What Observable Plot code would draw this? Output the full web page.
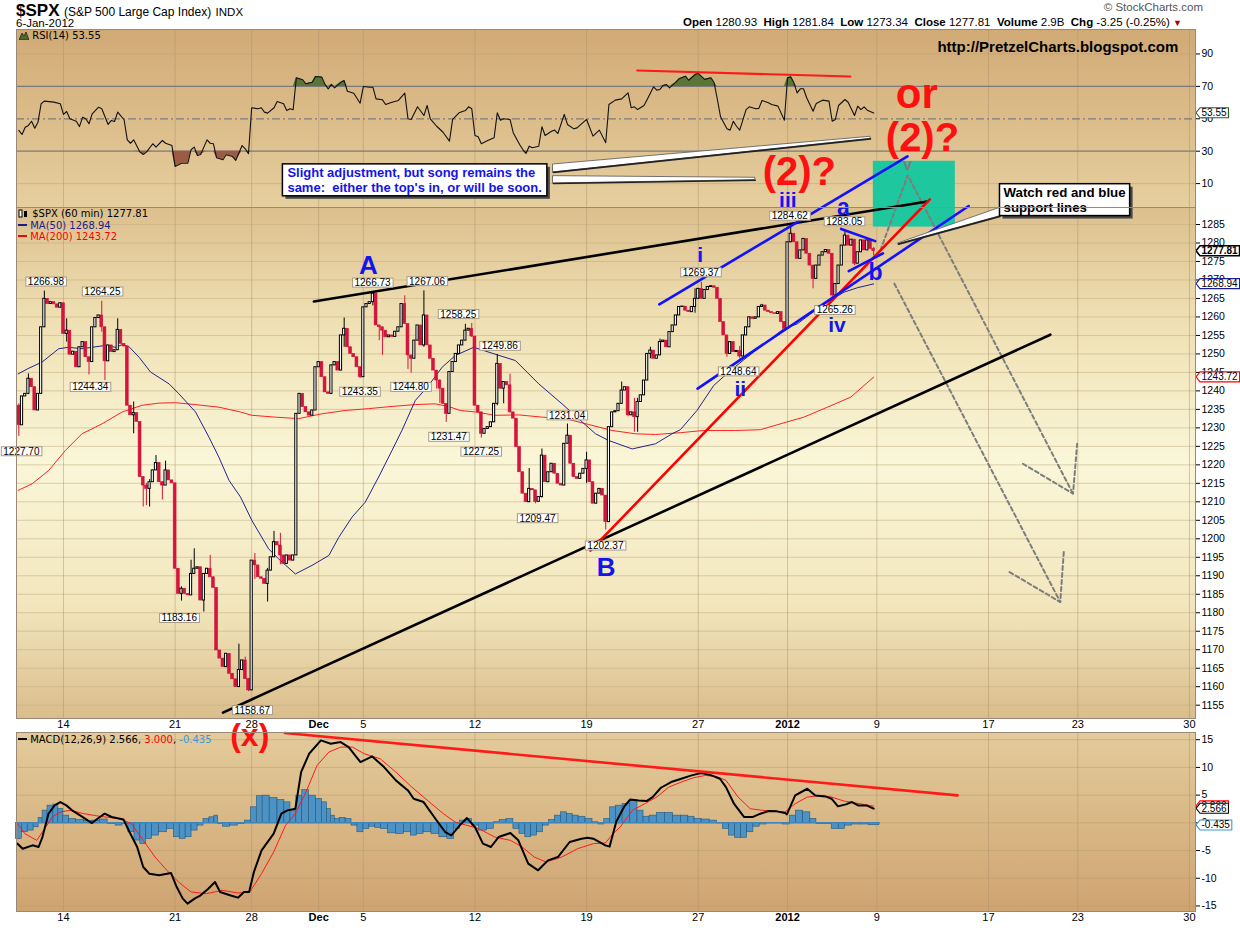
<!DOCTYPE html>
<html><head><meta charset="utf-8">
<script src="https://cdn.jsdelivr.net/npm/d3@7"></script>
<script src="https://cdn.jsdelivr.net/npm/@observablehq/plot@0.6"></script>
<style>
html,body{margin:0;padding:0;background:#fff;}
#root{position:relative;width:1240px;height:928px;overflow:hidden;font-family:"Liberation Sans",Arial,sans-serif;color:#000;}
.bg{position:absolute;left:16px;width:1179px;}
.lay{position:absolute;left:0;}
.leg{position:absolute;font-family:"DejaVu Sans",Verdana,sans-serif;font-size:10px;white-space:nowrap;line-height:12px;}
.hdr{position:absolute;white-space:nowrap;}
</style></head><body><div id="root">
<div class="bg" style="top:29px;height:178px;background:linear-gradient(#d1aa75,#e6cf9f)"></div>
<div class="bg" style="top:207px;height:511px;background:linear-gradient(#dcbf8d 0%,#efe0b3 22%,#faf6d8 50%,#f2e6bd 78%,#dabd8b 100%)"></div>
<div class="bg" style="top:732px;height:179px;background:linear-gradient(#e4cb9b,#cea471)"></div>
</div>
<script>
// ---------------- DATA ----------------
// x positions are hourly bar indexes (0 = first bar of Nov 14, 2011)
const tickBars = [0,35,59,80,94,129,164,199,227,255,290,318,353];
const tickLabels = ["14","21","28","Dec","5","12","19","27","2012","9","17","23","30"];
const priceTicks = [1155,1160,1165,1170,1175,1180,1185,1190,1195,1200,1205,1210,1215,1220,1225,1230,1235,1240,1245,1250,1255,1260,1265,1270,1275,1280,1285];
const rsiTicks = [10,30,50,70,90];
const rsiGuides = [30,70];
const rsiFaint = [90,10];
const macdTicks = [-15,-10,-5,0,5,10,15];

const firstBar = -14, firstOpen = 1236.0;
const closes = [1230.7,1238.5,1239.2,1243.3,1241.0,1234.7,1239.2,1257.2,1264.9,1263.5,1264.0,1263.4,1262.5,1263.7,
1255.4,1256.3,1249.8,1250.6,1246.4,1251.8,1253.2,1249.1,1247.8,1257.2,1259.7,1260.4,1257.2,1248.0,1252.3,1250.5,1251.0,1256.5,1252.7,1252.0,
1236.0,1233.4,1234.0,1231.6,1216.7,1214.4,1213.5,1215.3,1218.5,1220.5,1215.3,1214.4,1218.5,1215.8,1215.0,
1191.9,1185.1,1186.5,1185.1,1184.7,1190.5,1191.9,1192.3,1183.3,1190.5,1191.9,1189.6,1186.7,1169.8,1167.6,1165.3,1168.9,1163.5,1162.0,1159.9,1164.5,1167.1,1162.1,1159.0,
1194.1,1192.8,1189.6,1189.2,1187.8,1191.4,1195.0,1199.1,1198.2,1195.5,1193.2,1195.5,1194.1,1195.5,
1233.8,1239.2,1235.6,1234.2,1233.3,1234.7,1246.4,1247.8,1243.7,1239.6,1239.2,1246.9,1247.8,1245.5,1255.0,1256.8,1251.8,1250.0,1249.1,1246.4,1243.7,
1262.6,1263.5,1264.0,1266.3,1257.7,1257.2,1256.3,1254.5,1255.0,1254.6,1256.0,1257.2,1263.5,1258.1,1249.6,1248.7,1253.6,1257.7,1252.3,1260.4,1252.3,
1248.7,1245.5,1242.8,1240.6,1236.5,1233.8,1245.1,1247.8,1250.0,1252.3,1253.6,1256.3,1256.8,1254.7,
1236.0,1234.2,1228.4,1229.7,1230.2,1231.5,1236.5,1247.3,1240.6,1242.4,1241.5,1234.2,1232.5,1224.8,1218.0,1212.2,1209.9,1213.5,1213.1,1210.0,1211.3,
1222.5,1215.3,1218.0,1220.3,1217.6,1214.9,1214.4,1225.7,1227.9,1220.3,1216.7,1216.2,1217.6,1218.9,
1221.2,1215.3,1209.5,1212.2,1213.5,1211.7,1204.5,1230.2,1234.2,1234.5,1236.5,1240.1,1241.0,1233.4,1234.2,1232.9,1237.0,1238.8,1242.8,1250.0,1250.9,
1248.7,1249.6,1253.2,1253.6,1251.8,1255.9,1257.7,1260.4,1262.7,1262.8,1261.7,1261.3,1262.7,1264.9,
1267.6,1264.9,1267.3,1268.1,1268.3,1267.9,1264.9,1258.6,1255.0,1250.0,1253.2,1250.5,1250.8,1249.3,1255.0,1257.2,1259.9,1259.5,1259.9,1262.7,1263.1,
1261.7,1261.3,1261.0,1260.8,1261.3,1258.6,1256.8,
1280.2,1282.5,1280.2,1275.7,1278.0,1281.1,1277.1,1273.9,1270.3,1273.9,1276.6,1277.5,1278.1,1277.1,1265.8,1268.9,1273.9,1279.3,1282.0,1279.3,1280.9,
1274.4,1277.5,1280.7,1278.0,1280.7,1278.4,1277.81];
// [bar, high, low] for visible wicks
const wicks = [[-14,1236.5,1227.7],[-11,1244.6,1239.0],[-6,1266.98,1257.2],[1,1259.5,1253.2],[8,1249.0,1244.34],[12,1264.25,1255.9],[13,1257.2,1242.8],[17,1259.5,1251.0],[22,1237.0,1228.4],[25,1216.7,1208.6],[26,1215.0,1209.0],[27,1216.0,1208.6],[29,1222.5,1218.5],[31,1215.3,1210.5],[32,1221.0,1214.4],[37,1187.0,1183.16],[40,1194.2,1184.7],[41,1197.3,1190.5],[44,1190.5,1180.2],[46,1195.5,1189.6],[55,1171.5,1162.0],[57,1168.0,1162.0],[58,1162.1,1158.67],[60,1196.0,1189.0],[64,1192.0,1182.9],[66,1202.0,1195.0],[68,1201.5,1193.0],[84,1247.0,1239.0],[88,1259.7,1251.8],[93,1246.0,1243.35],[97,1266.73,1263.0],[99,1257.7,1253.6],[100,1257.0,1249.6],[107,1265.7,1258.0],[108,1250.0,1245.8],[109,1249.6,1244.80],[113,1267.06,1251.8],[117,1245.0,1240.5],[118,1243.0,1236.6],[120,1236.5,1231.47],[126,1258.0,1254.0],[128,1258.25,1254.5],[131,1232.0,1227.25],[136,1249.86,1236.0],[138,1242.4,1236.5],[140,1244.5,1234.0],[146,1219.0,1209.8],[148,1213.0,1209.47],[150,1224.3,1211.0],[158,1231.04,1225.7],[164,1223.4,1215.0],[170,1211.7,1202.37],[175,1242.4,1236.5],[177,1241.0,1233.0],[179,1238.0,1228.8],[180,1238.0,1228.8],[184,1251.8,1248.7],[187,1254.0,1249.6],[198,1267.6,1261.0],[200,1269.37,1264.9],[208,1255.0,1249.1],[212,1252.0,1248.64],[219,1263.4,1262.6],[228,1284.62,1280.2],[235,1273.9,1267.6],[241,1277.0,1265.26],[245,1283.05,1279.3],[248,1280.9,1273.9],[254,1278.8,1276.5]];
const ma50 = [[-14.2,1244.6],[-11.2,1246.0],[-6.7,1247.8],[-1.5,1251.4],[1.6,1251.8],[5.8,1251.4],[9,1251.8],[13.2,1252.3],[16.3,1251.8],[18.4,1252.5],[20.5,1252.0],[23.7,1249.1],[27.3,1245.1],[33.1,1241.9],[36.2,1239.2],[41.4,1234.3],[45.6,1227.5],[48.7,1222.1],[51.9,1215.8],[55.5,1211.3],[59.1,1204.9],[64.3,1197.3],[67.4,1194.6],[72.7,1190.5],[77.9,1192.8],[83.2,1195.5],[86.3,1200.4],[90.5,1205.9],[94.6,1209.9],[98.8,1216.7],[103,1223.9],[106.1,1229.3],[110.3,1237.4],[114.5,1241.5],[118.7,1246.4],[122.9,1249.6],[128.6,1251.8],[136.5,1249.6],[141.7,1248.2],[149,1241.9],[156.3,1236.5],[162.6,1231.6],[166.8,1228.4],[170.9,1226.6],[178.3,1224.3],[185.6,1225.7],[190.8,1228.4],[193.4,1229.5],[198.6,1234.7],[203.9,1241.5],[209.1,1245.5],[214.3,1249.1],[219.6,1252.7],[225.8,1256.8],[230,1258.1],[234.2,1260.8],[239.5,1264.0],[244.7,1266.7],[248.9,1267.9],[254,1268.94]];
const ma200 = [[-14.2,1213.1],[-9.8,1214.9],[-4.6,1218.5],[0.6,1223.9],[5.8,1228.4],[12.1,1231.1],[18.4,1234.3],[24.6,1236.1],[29.9,1236.7],[35.1,1236.8],[41.4,1236.3],[48.7,1235.6],[55.5,1234.3],[59.1,1233.4],[66.4,1232.9],[73.7,1232.5],[81,1233.8],[88.3,1234.7],[95.6,1235.2],[103,1235.8],[110.3,1236.3],[116.5,1236.5],[120.7,1235.8],[124.4,1234.7],[129.2,1234.3],[135.4,1233.4],[142.8,1233.5],[150.1,1232.9],[157.4,1232.5],[164.7,1230.9],[172,1229.3],[179.3,1228.4],[185.6,1228.2],[193.4,1228.7],[200.7,1229.3],[211.2,1229.3],[218.5,1229.5],[224.8,1231.1],[232.1,1232.9],[239.5,1235.6],[246.8,1238.3],[254,1243.72]];

const rsiBar = [-14,-13,-12,-11,-10,-9,-8,-7,-6,-3,-1,0,1,2,4,5,6,7,8,9,11,12,14,15,16,17,19,20,21,22,24,25,26,28,29,31,32,34,35,37,39,40,41,42,43,45,46,47,48,50,51,53,54,56,57,58,59,61,62,63,64,66,67,69,70,71,72,73,75,76,78,79,81,82,83,84,85,87,88,89,91,93,94,96,97,98,100,101,103,105,107,108,109,111,113,114,115,117,119,121,122,124,126,127,128,129,130,131,133,135,136,137,138,140,141,143,144,145,146,147,149,150,151,153,154,155,157,158,160,161,164,166,168,170,171,173,175,177,178,179,180,182,183,185,186,187,188,189,190,192,193,195,196,198,199,201,203,204,205,206,208,209,210,211,212,214,215,217,218,219,221,222,224,226,227,228,229,230,231,232,233,235,236,238,240,241,242,243,245,246,248,249,250,251,252,254];
const rsiVal = [42.8,40.3,44.8,45.9,48.5,44.2,47.9,59.3,60.9,60.3,59.3,52.7,54.5,50,48.5,45.2,51,50,46.9,53.1,57.2,56.2,46.5,49,48.3,54.1,49.4,37,34.9,37,29.4,28,29.4,34.6,32.5,36.6,34.9,33.5,20.6,22.6,22.6,30.9,32.5,27.3,28,37,34.9,34.6,25.9,24.7,27.8,26.7,24.3,33.5,31.5,28.4,56.8,56.2,56.8,54.1,53.5,56.8,60.7,59.3,55.1,56.2,55.6,75.3,74.1,71.6,72.6,76.1,75.7,71.2,68.5,71.2,69.1,72.6,73.6,67,65.8,59.6,69.9,69.5,69.5,62.3,61.7,58.8,60.2,61.3,65.8,50,49.6,57.4,52,58.2,50,45.4,41.7,36.2,49.6,53.7,55.1,57.4,56.2,39.7,38.9,34.6,36.6,38.3,53.7,49.1,50,49.6,41.4,34.1,31,28.6,33.1,32.1,33.1,45.1,39.7,42.3,43,40.9,52.7,46.5,43.8,44.4,49.6,39.3,43,35.2,58.8,61.5,62.3,66,56.8,57.4,55.7,58.2,61.9,69.7,67.7,68.1,70.6,71.2,69.1,72.6,74.7,76.3,73.8,77.3,78,74.3,75.3,72.2,61.9,51.2,43.8,43,48.5,45.4,43,55.7,57.4,56.2,56.4,61.3,59.9,58.8,57.8,49.1,75.3,75.9,72.2,66,68.5,68.5,63,54.7,59.4,61.5,60.9,48.5,49.6,58.2,61.9,60.2,52,57.8,55.7,57.4,55.3,53.55];

const macdLine = [[-14.4,-3.76],[-12.8,-4.67],[-9.7,-4.06],[-7.8,-4.36],[-6.6,-2.56],[-4.7,1.64],[-2.8,3.15],[-1,3.75],[0.9,3.15],[2.7,2.25],[5.2,1.35],[8.9,-0.04],[11.4,1.05],[12.9,1.65],[15.1,1.05],[18.8,0.62],[20.7,-1.66],[23.1,-4.36],[25,-7.97],[26.9,-9.17],[30,-9.47],[33.7,-9.05],[35.5,-11.58],[37.4,-13.68],[38.9,-14.58],[41.1,-13.68],[43,-13.08],[45.4,-11.88],[47.5,-10.68],[49.1,-12.48],[52.2,-13.08],[54.7,-13.5],[56.6,-12.48],[58.2,-12.48],[59.7,-8.87],[62.1,-4.97],[65.9,-1.96],[68.3,1.65],[70.2,2.25],[72.7,2.55],[74.5,9.16],[77,12.46],[80.7,14.87],[83.8,14.27],[86.9,14.57],[89.4,13.67],[93.1,10.96],[96.8,11.98],[100.5,10.06],[104.2,7.66],[108,5.85],[109.8,4.35],[112.9,3.75],[116.6,0.74],[119.7,-1.66],[121.6,-2.26],[124.7,-0.16],[126.5,0.86],[129,-0.76],[131.5,-3.76],[134,-4.36],[136.4,-2.56],[140.1,-1.84],[142.6,-3.16],[145.7,-7.37],[148.8,-8.57],[151.9,-6.77],[155,-6.17],[158.7,-3.46],[162.4,-2.86],[164.3,-2.68],[166.1,-2.86],[169.9,-4.06],[171.2,-4.3],[173.3,0.2],[175.8,2.95],[177.7,4.23],[180.3,4.05],[182.8,3.93],[184.7,4.65],[187.3,6.33],[190.5,7.36],[193.7,7.96],[196.9,8.56],[200,8.98],[203.2,8.56],[205.8,7.96],[207.7,6.45],[210.2,3.45],[213.4,1.04],[216,1.04],[218.5,1.65],[221.1,2.13],[223.6,2.07],[226.2,1.77],[226.8,1.53],[229.4,4.95],[233.2,6.15],[235.7,4.95],[238.9,4.77],[240.8,4.35],[242.8,2.97],[245.3,3.33],[247.2,3.75],[249.1,3.15],[251.7,3.15],[254,2.566]];
const macdSignal = [[-14.4,-0.16],[-12.1,-1.96],[-8.4,-3.16],[-5.9,-1.06],[-3.5,1.05],[-1,1.95],[2.1,2.25],[6.4,1.65],[11.4,1.17],[17.6,0.74],[21.3,-0.16],[25,-3.16],[28.7,-6.17],[32.4,-8.57],[36.1,-10.68],[40,-12.48],[44.8,-12.78],[49.8,-12.18],[54.7,-12.66],[58.4,-12.48],[62.1,-9.17],[65.9,-5.27],[69.6,-0.46],[72.7,1.65],[75.8,5.25],[79.5,10.36],[83.2,12.77],[86.9,13.67],[90.6,13.67],[94.3,12.46],[99.3,11.56],[104.2,9.16],[109.2,6.45],[114.1,4.05],[119.1,1.65],[122.8,0.14],[126.5,-0.46],[130.2,-1.06],[135.2,-2.56],[140.1,-3.16],[143.8,-4.36],[147.6,-6.17],[151.3,-7.07],[156.2,-6.17],[161.2,-4.66],[166.1,-3.76],[169.9,-3.64],[172.3,-1.96],[174.5,-0.76],[178.4,2.25],[182.2,3.45],[186,4.65],[189.8,6.45],[193.7,7.36],[197.5,8.14],[201.3,8.56],[205.1,8.26],[207.7,7.66],[211.5,4.65],[215.3,2.55],[219.2,2.25],[223,2.13],[226.2,1.95],[229.4,3.45],[233.2,4.65],[237,4.95],[240.8,4.65],[244.7,3.93],[248.5,3.57],[254,3.0]];
const histBar = [-14,-12.1,-10.3,-8.4,-7.2,-5.9,-4.1,-2.2,-1,0.9,2.7,5.2,7.7,10.2,12.6,15.1,17.6,19.4,21.3,23.2,25,26.9,28.7,31.2,33.7,35.5,37.4,39.2,41.1,43,44.8,46.7,47.9,49.1,51,53.5,56,57.8,59.7,61.5,63.4,65.9,68.3,70.2,72.1,73.9,75.8,78.2,80.1,82,83.2,84.4,85.7,87.5,89.4,91.2,93.1,95,96.8,98.7,100.5,103,105.5,108,109.8,111.7,114.1,116.6,119.1,121.6,123.4,125.3,127.1,129,131.5,134,135.8,137.7,140.1,142,143.9,145.7,147.6,149.4,151.3,153.1,155,156.9,158.7,160.6,162.4,164.9,166.8,168.6,170.5,172.3,174.2,176.4,179,180.9,182.8,184.7,187.3,189.8,192.4,194.9,196.9,198.8,201.3,203.9,205.8,207.7,209.6,211.5,213.4,215.3,217.3,219.2,221.7,224.3,226.8,228.7,230.6,233.2,235.1,237,239.6,242.1,244,246,248.5,251,254.2];
const histVal = [-2.9,-1.7,-1.4,-0.8,0.9,2.2,3.1,3.3,2.5,1.3,0.7,0.5,0.3,0.4,0.6,-0.2,-0.5,-0.2,-1.7,-3.2,-3.8,-2.9,-2.3,-1.7,-1.1,-2.6,-2.9,-2.6,-1.4,-0.5,0.7,1.0,1.3,-0.2,-0.7,-0.5,-0.2,0.4,2.8,4.8,4.9,4.5,4.1,3.7,2.2,4.9,5.9,4.9,4.3,3.7,2.5,1.3,0.7,0.9,0.7,-0.5,-1.7,-1.1,-0.7,-0.9,-1.1,-1.9,-2.0,-1.7,-2.3,-2.0,-1.7,-2.0,-2.6,-2.9,-1.1,0.4,0.7,-0.5,-1.4,-1.1,0.1,0.5,0.7,-1.1,-2.0,-2.6,-2.3,-1.7,-0.5,0.5,1.3,1.9,1.6,1.3,1.1,0.7,0.1,-0.3,0.7,2.8,3.1,3.4,4.0,2.2,1.1,1.3,1.8,1.8,1.3,1.3,1.1,0.7,0.6,0.4,-0.1,-1.1,-2.3,-2.7,-2.7,-1.7,-0.7,-0.3,-0.1,-0.1,-0.3,1.3,2.2,1.9,0.7,-0.2,-0.2,-1.1,-1.1,-0.5,-0.3,-0.3,-0.435];

// annotation geometry (in data units: bar index / price / indicator value)
const blackLines = [{id:1,bar:78.5,p:1264.2},{id:1,bar:270.8,p:1291.2},{id:2,bar:50,p:1153.0},{id:2,bar:309.4,p:1255.2}];
const redLine = [{bar:165.2,p:1196.8},{bar:271.6,p:1291.8}];
const blueLines = [{id:1,bar:186.8,p:1263.4},{id:1,bar:264.6,p:1303.4},{id:2,bar:198.8,p:1240.6},{id:2,bar:283.8,p:1290.0},{id:3,bar:243.8,p:1283.8},{id:3,bar:254.5,p:1280.5},{id:4,bar:246.2,p:1272.4},{id:4,bar:256.9,p:1277.2}];
const arrows = [{id:1,bar:256.1,p:1278.0},{id:1,bar:264.7,p:1298.3},{id:1,bar:316.5,p:1212.2},{id:2,bar:300.8,p:1220.3},{id:2,bar:316.5,p:1212.2},{id:2,bar:317.8,p:1225.7},{id:3,bar:260.5,p:1269.0},{id:3,bar:312.5,p:1182.9},{id:4,bar:296.6,p:1191.0},{id:4,bar:312.5,p:1182.9},{id:4,bar:313.6,p:1196.4}];
const greenBox = [{x1:253.9,x2:279.6,y1:1284.3,y2:1302.1}];
const waveLabels = [{t:"A",bar:95.6,p:1273.9,s:26},{t:"B",bar:170.1,p:1192.2,s:26},{t:"i",bar:199.6,p:1276.8,s:21},{t:"ii",bar:212.2,p:1240.5,s:21},{t:"iii",bar:227.1,p:1291.5,s:21},{t:"iv",bar:242.5,p:1257.8,s:21},{t:"a",bar:244.5,p:1289.7,s:23},{t:"b",bar:254.6,p:1271.9,s:23}];
const redLabels = [{t:"(2)?",bar:230.7,p:1299.2,s:40},{t:"or",bar:267.5,p:1320.2,s:42},{t:"(2)?",bar:269.3,p:1308.3,s:40}];
const extremes = [{t:"1266.98",bar:-5.5,p:1269.5},{t:"1264.25",bar:12.2,p:1266.8},{t:"1244.34",bar:8.4,p:1241.0},{t:"1227.70",bar:-13.2,p:1223.6},{t:"1183.16",bar:36.3,p:1178.5},{t:"1158.67",bar:59.2,p:1153.6},{t:"1266.73",bar:96.9,p:1269.2},{t:"1267.06",bar:114.0,p:1269.6},{t:"1243.35",bar:92.9,p:1239.7},{t:"1244.80",bar:108.9,p:1241.0},{t:"1231.47",bar:120.8,p:1227.5},{t:"1258.25",bar:123.8,p:1260.7},{t:"1227.25",bar:130.9,p:1223.5},{t:"1249.86",bar:136.8,p:1252.1},{t:"1231.04",bar:157.9,p:1233.3},{t:"1209.47",bar:148.6,p:1205.5},{t:"1202.37",bar:169.9,p:1198.1},{t:"1269.37",bar:199.8,p:1272.0},{t:"1248.64",bar:211.6,p:1245.2},{t:"1284.62",bar:227.7,p:1287.3},{t:"1283.05",bar:244.8,p:1285.8},{t:"1265.26",bar:241.8,p:1261.8}];
const note2 = [{t:"Watch red and blue\nsupport lines",bar:294.7,p:1291.8}];
const note2Wedge = [{bar:261.8,lo:1279.7,hi:1279.9},{bar:293.6,lo:1287.2,hi:1289.5}];
const rsiResist = [{bar:179.9,v:79.8},{bar:246.7,v:76.1}];
const rsiWedges = [{g:1,bar:153.6,lo:16.9,hi:21.8},{g:1,bar:253,lo:37.6,hi:38.9},{g:2,bar:153.6,lo:10.1,hi:14.6},{g:2,bar:216.9,lo:12.1,hi:13.6}];
const note1 = [{t:"Slight adjustment, but song remains the\nsame:\u00a0 either the top's in, or will be soon.",bar:70.2,v:12.5}];
const urlNote = [{t:"http://PretzelCharts.blogspot.com",bar:349.5,v:94.0}];
const macdResist = [[69.4,16.2],[280.3,4.96]];
const xLabel = [{t:"(x)",bar:58.4,v:15.7}];
const priceTags = [{v:1277.81,t:"1277.81",c:"#000",w:"bold"},{v:1268.94,t:"1268.94",c:"#1c1c8a",w:"normal"},{v:1243.72,t:"1243.72",c:"#ff0000",w:"normal"}];
const rsiTags = [{v:53.55,t:"53.55",c:"#2e5c1e"}];
const macdTags = [{v:3.0,t:"3.000",c:"#ff0000"},{v:2.566,t:"2.566",c:"#000"},{v:-0.435,t:"-0.435",c:"#3a9ad9"}];

// ---------------- BUILD ----------------
const W = 1240, ML = 16, MR = 45;
const xDomain = [-14.73, 354.9];
const FONT = "Liberation Sans, Arial, sans-serif";
const baseStyle = {overflow:"visible", background:"transparent", fontFamily:FONT, fontSize:"10px", color:"#000"};
const root = document.getElementById("root");
const gridV = Plot.ruleX(tickBars, {stroke:"#a88f6a", strokeOpacity:0.45});
const fmt = d => String(d);

function place(svg, top){ const d=document.createElement("div"); d.className="lay"; d.style.top=top+"px"; d.appendChild(svg); root.appendChild(d); return svg; }
function boxify(svg, desc, o){
  const ns="http://www.w3.org/2000/svg";
  svg.querySelectorAll(`g[aria-description="${desc}"] text`).forEach(t=>{
    const b=t.getBBox(); const px=o.px??2, py=o.py??0;
    const x0=b.x-px, y0=b.y-py, w=b.width+2*px, h=b.height+2*py;
    const tr=t.getAttribute("transform");
    const mk=(tag,attrs)=>{const e=document.createElementNS(ns,tag); for(const k in attrs) e.setAttribute(k,attrs[k]); if(tr) e.setAttribute("transform",tr); t.parentNode.insertBefore(e,t); return e;};
    if(o.shadow) mk("rect",{x:x0+3,y:y0+3,width:w,height:h,fill:"#4a4a4a",stroke:"none"});
    if(o.notch) mk("path",{d:`M${x0-4},${y0+h/2}L${x0},${y0-0.5}H${x0+w}V${y0+h+0.5}H${x0}Z`,fill:o.fill,stroke:o.stroke,"stroke-width":o.sw});
    else mk("rect",{x:x0,y:y0,width:w,height:h,fill:o.fill,stroke:o.stroke,"stroke-width":o.sw});
  });
}
function tagMarks(list, prefix){
  return list.map((d,i)=>Plot.text([d],{x:()=>xDomain[1],y:"v",text:"t",dx:6,textAnchor:"start",lineAnchor:"middle",fontSize:10,fontWeight:d.w||"normal",fill:"#000",fontFamily:FONT,ariaDescription:prefix+i}));
}
function decorateTags(svg, list, prefix){ list.forEach((d,i)=>boxify(svg,prefix+i,{fill:"#fff",stroke:d.c,sw:d.w==="bold"?1.6:1.1,px:1.5,py:-1,notch:true})); }

// ---- RSI panel ----
const rsiData = rsiBar.map((b,i)=>({bar:b, v:rsiVal[i]}));
const rsiSvg = place(Plot.plot({
  width:W, height:178, marginLeft:ML, marginRight:MR, marginTop:0, marginBottom:0,
  x:{domain:xDomain, axis:null}, y:{domain:[-4.75,105.1]}, style:baseStyle,
  marks:[
    gridV,
    Plot.ruleY(rsiFaint,{stroke:"#b99b70",strokeOpacity:0.45}),
    Plot.ruleY(rsiGuides,{stroke:"#7a7a7a",strokeWidth:1.2}),
    Plot.ruleY([50],{stroke:"#7a7a7a",strokeWidth:1.2,strokeDasharray:"8,3,2,3"}),
    Plot.areaY(rsiData,{x:"bar",y1:70,y2:d=>Math.max(70,d.v),fill:"#5a7536"}),
    Plot.areaY(rsiData,{x:"bar",y1:30,y2:d=>Math.min(30,d.v),fill:"#9c5b45"}),
    Plot.lineY(rsiData,{x:"bar",y:"v",stroke:"#111",strokeWidth:1.1}),
    Plot.line(rsiResist,{x:"bar",y:"v",stroke:"#ff1a1a",strokeWidth:2.2}),
    Plot.areaY(rsiWedges,{x:"bar",y1:"lo",y2:"hi",z:"g",fill:"#fff",stroke:"#555",strokeWidth:0.8}),
    Plot.line(rsiWedges,{x:"bar",y:"lo",z:"g",stroke:"#222",strokeWidth:1.6}),
    Plot.text(note1,{x:"bar",y:"v",text:"t",textAnchor:"start",lineAnchor:"middle",lineHeight:1.15,fontSize:13,fontWeight:"bold",fill:"#1414e6",fontFamily:FONT,ariaDescription:"callout"}),
    Plot.text(urlNote,{x:"bar",y:"v",text:"t",textAnchor:"end",lineAnchor:"middle",fontSize:15,fontWeight:"bold",fill:"#000",fontFamily:FONT}),
    Plot.axisY({anchor:"right",ticks:rsiTicks,tickSize:4,tickPadding:2,tickFormat:fmt,fontSize:10.5,label:null,stroke:"#000"}),
    ...tagMarks(rsiTags,"rtag"),
    Plot.frame({stroke:"#9a8878"})
  ]}), 29);

// ---- Price panel ----
const candles = closes.map((c,i)=>{const o=i?closes[i-1]:firstOpen; return {bar:firstBar+i,o,c,hi:Math.max(o,c),lo:Math.min(o,c)};});
wicks.forEach(([b,h,l])=>{const d=candles[b-firstBar]; if(d){d.hi=Math.max(d.hi,h); d.lo=Math.min(d.lo,l);}});
const ups = candles.filter(d=>d.c>=d.o), downs = candles.filter(d=>d.c<d.o);
const priceSvg = place(Plot.plot({
  width:W, height:531, marginLeft:ML, marginRight:MR, marginTop:0, marginBottom:20,
  x:{domain:xDomain}, y:{domain:[1151.4,1289.6]}, style:baseStyle,
  marks:[
    Plot.ruleY(priceTicks,{stroke:"#c4ad82",strokeOpacity:0.55}),
    gridV,
    Plot.rect(greenBox,{x1:"x1",x2:"x2",y1:"y1",y2:"y2",fill:"#1fc79f"}),
    Plot.line(ma200,{x:d=>d[0],y:d=>d[1],stroke:"#ff2222",strokeWidth:1}),
    Plot.line(ma50,{x:d=>d[0],y:d=>d[1],stroke:"#23238e",strokeWidth:1}),
    Plot.ruleX(downs,{x:"bar",y1:"lo",y2:"hi",stroke:"#d4143c",strokeWidth:1}),
    Plot.ruleX(ups,{x:"bar",y1:"lo",y2:"hi",stroke:"#000",strokeWidth:1}),
    Plot.rect(downs,{x1:d=>d.bar-0.45,x2:d=>d.bar+0.45,y1:"o",y2:"c",fill:"#d4143c",stroke:"#d4143c",strokeWidth:0.6}),
    Plot.rect(ups,{x1:d=>d.bar-0.34,x2:d=>d.bar+0.34,y1:"o",y2:"c",fill:"#fff",stroke:"#000",strokeWidth:1}),
    Plot.line(arrows,{x:"bar",y:"p",z:"id",stroke:"#7d7d7d",strokeWidth:2,strokeDasharray:"4,3"}),
    Plot.text([{bar:264.7,p:1301.2}],{x:"bar",y:"p",text:()=>"v",fill:"#7d7d7d",fontSize:16,fontWeight:"bold",lineAnchor:"middle"}),
    Plot.line(blackLines,{x:"bar",y:"p",z:"id",stroke:"#000",strokeWidth:2.6}),
    Plot.line(redLine,{x:"bar",y:"p",stroke:"#ff0000",strokeWidth:2.6}),
    Plot.line(blueLines,{x:"bar",y:"p",z:"id",stroke:"#1111ff",strokeWidth:2.6}),
    Plot.text(extremes,{x:"bar",y:"p",text:"t",fontSize:10,fill:"#000",lineAnchor:"middle",fontFamily:FONT,ariaDescription:"xbox"}),
    Plot.text(waveLabels,{x:"bar",y:"p",text:"t",fontSize:"s",fontWeight:"bold",fill:"#1414f0",lineAnchor:"middle",fontFamily:FONT}),
    Plot.text(redLabels,{x:"bar",y:"p",text:"t",fontSize:"s",fontWeight:"bold",fill:"#ff1010",lineAnchor:"middle",fontFamily:FONT}),
    Plot.areaY(note2Wedge,{x:"bar",y1:"lo",y2:"hi",fill:"#fff",stroke:"#555",strokeWidth:0.8}),
    Plot.line(note2Wedge,{x:"bar",y:"lo",stroke:"#222",strokeWidth:1.6}),
    Plot.text(note2,{x:"bar",y:"p",text:"t",textAnchor:"start",lineAnchor:"middle",lineHeight:1.12,fontSize:13.3,fontWeight:"bold",fill:"#000",fontFamily:FONT,ariaDescription:"callout2"}),
    Plot.axisX({ticks:tickBars,tickFormat:d=>tickLabels[tickBars.indexOf(d)],tickSize:0,tickPadding:2,fontSize:11,label:null}),
    Plot.axisY({anchor:"right",ticks:priceTicks,tickSize:4,tickPadding:2,tickFormat:fmt,fontSize:10.5,label:null}),
    ...tagMarks(priceTags,"ptag"),
    Plot.frame({stroke:"#9a8878"})
  ]}), 207);

// ---- MACD panel ----
const hist = histBar.map((b,i)=>{const n=histBar.length; const prev=i?histBar[i-1]:b-(histBar[1]-histBar[0]); const next=i<n-1?histBar[i+1]:b+(b-histBar[i-1]); return {x1:(prev+b)/2,x2:(b+next)/2,v:histVal[i]};});
const macdSvg = place(Plot.plot({
  width:W, height:196, marginLeft:ML, marginRight:MR, marginTop:0, marginBottom:17,
  x:{domain:xDomain}, y:{domain:[-16.0,16.3]}, style:baseStyle,
  marks:[
    Plot.ruleY(macdTicks,{stroke:"#b5986c",strokeOpacity:0.45}),
    gridV,
    Plot.rect(hist,{x1:"x1",x2:"x2",y1:0,y2:"v",fill:"#4d92c4",stroke:"#24587f",strokeWidth:0.6}),
    Plot.line([[hist[0].x1,0],[hist[hist.length-1].x2,0]],{x:d=>d[0],y:d=>d[1],stroke:"#3d86bd",strokeWidth:1.5}),
    Plot.line(macdSignal,{x:d=>d[0],y:d=>d[1],stroke:"#ff1a1a",strokeWidth:1}),
    Plot.line(macdLine,{x:d=>d[0],y:d=>d[1],stroke:"#000",strokeWidth:2}),
    Plot.line(macdResist,{x:d=>d[0],y:d=>d[1],stroke:"#ff1a1a",strokeWidth:2.6}),
    Plot.text(xLabel,{x:"bar",y:"v",text:"t",fontSize:32,fontWeight:"bold",fill:"#ff1010",lineAnchor:"middle",fontFamily:FONT}),
    Plot.axisX({ticks:tickBars,tickFormat:d=>tickLabels[tickBars.indexOf(d)],tickSize:0,tickPadding:2,fontSize:11,label:null}),
    Plot.axisY({anchor:"right",ticks:macdTicks,tickSize:4,tickPadding:2,tickFormat:fmt,fontSize:10.5,label:null}),
    ...tagMarks(macdTags,"mtag"),
    Plot.frame({stroke:"#9a8878"})
  ]}), 732);

// decorations
boxify(rsiSvg,"callout",{fill:"#fff",stroke:"#000",sw:1.5,px:5,py:1,shadow:true});
boxify(priceSvg,"callout2",{fill:"#fff",stroke:"#000",sw:1.5,px:4,py:1,shadow:true});
boxify(priceSvg,"xbox",{fill:"#fffffb",stroke:"#a89a8a",sw:1,px:2,py:-1});
decorateTags(rsiSvg,rsiTags,"rtag"); decorateTags(priceSvg,priceTags,"ptag"); decorateTags(macdSvg,macdTags,"mtag");
[priceSvg,macdSvg].forEach(s=>s.querySelectorAll("text").forEach(t=>{ if(t.textContent==="Dec"||t.textContent==="2012") t.style.fontWeight="bold"; }));

// header + legends (HTML text)
root.insertAdjacentHTML("beforeend",`
<div class="hdr" style="left:16px;top:1px;"><span style="font-size:17px;font-weight:bold;">$SPX</span> <span style="font-size:12px;">(S&amp;P 500 Large Cap Index)</span> <span style="font-size:11.5px;">INDX</span></div>
<div class="hdr" style="left:16px;top:17px;font-size:11.5px;">6-Jan-2012</div>
<div class="hdr" style="right:37px;top:1px;font-size:11.5px;color:#555;">© StockCharts.com</div>
<div class="hdr" style="right:58px;top:16px;font-size:11.5px;"><b>Open</b> 1280.93 &nbsp;<b>High</b> 1281.84 &nbsp;<b>Low</b> 1273.34 &nbsp;<b>Close</b> 1277.81 &nbsp;<b>Volume</b> 2.9B &nbsp;<b>Chg</b> -3.25 (-0.25%) <span style="color:#a00;font-size:9px;">▼</span></div>
<div class="leg" style="left:19px;top:30px;"><svg width="10" height="9" style="vertical-align:-1px"><path d="M0,9L3,2L5,5L7,1L10,9Z" fill="#4e6a2c" stroke="#222" stroke-width="0.8"/></svg> RSI(14) 53.55</div>
<div class="leg" style="left:18px;top:208px;"><svg width="11" height="9" style="vertical-align:-1px"><rect x="1" y="1" width="3" height="7" fill="#fff" stroke="#000"/><rect x="6" y="2" width="3" height="6" fill="#000"/></svg> $SPX (60 min) 1277.81</div>
<div class="leg" style="left:18px;top:220px;color:#1c1c8a;"><span style="display:inline-block;width:9px;height:2px;background:#1c1c8a;vertical-align:3px"></span> MA(50) 1268.94</div>
<div class="leg" style="left:18px;top:231px;color:#ff0000;"><span style="display:inline-block;width:9px;height:2px;background:#ff0000;vertical-align:3px"></span> MA(200) 1243.72</div>
<div class="leg" style="left:18px;top:734px;"><span style="display:inline-block;width:9px;height:2px;background:#000;vertical-align:3px"></span> MACD(12,26,9) 2.566, <span style="color:#ff0000">3.000</span>, <span style="color:#3a9ad9">-0.435</span></div>
`);
</script></body></html>
